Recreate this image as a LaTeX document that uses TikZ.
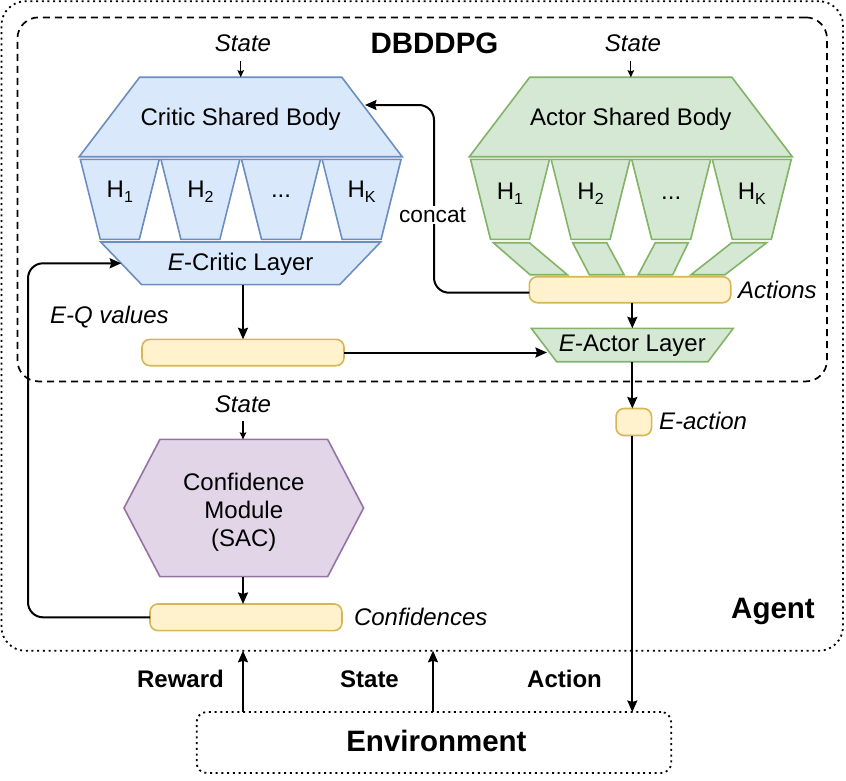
\documentclass[tikz,border=0pt]{standalone}
\usepackage{fontspec}
\setmainfont{Liberation Sans}
\usepackage{tikz}
\usetikzlibrary{arrows.meta,shapes.geometric,shapes.symbols}
\definecolor{bluefill}{HTML}{DAE8FC}
\definecolor{blueline}{HTML}{6C8EBF}
\definecolor{greenfill}{HTML}{D5E8D4}
\definecolor{greenline}{HTML}{82B366}
\definecolor{yellowfill}{HTML}{FFF2CC}
\definecolor{yellowline}{HTML}{D6B656}
\definecolor{purplefill}{HTML}{E1D5E7}
\definecolor{purpleline}{HTML}{9673A6}
\newcommand{\hd}[1]{H\raisebox{-5pt}{\fontsize{16}{16}\selectfont #1}}

\begin{document}
\begin{tikzpicture}[x=1pt,y=-1pt,->,>={Stealth[length=11.5pt,width=10pt,inset=1.5pt]},node distance=80.6pt,
  line width=2pt,font=\fontsize{24}{28}\selectfont,
  every node/.style={inner sep=0pt,outer sep=0pt},
  trap/.style={trapezium,trapezium stretches body,draw,line width=1.6pt,-},
  critic node/.style={trap,draw=blueline,fill=bluefill},
  actor node/.style={trap,draw=greenline,fill=greenfill},
  head/.style={minimum width=79pt,minimum height=80pt,trapezium angle=11.31,shape border rotate=180,text height=0pt,text depth=4pt},
  value box/.style={rectangle,rounded corners=8pt,draw=yellowline,fill=yellowfill,line width=1.6pt,-},
  dot frame/.style={rectangle,draw,line width=1.8pt,dash pattern=on 2pt off 3.7pt,-},
  small label/.style={font=\fontsize{24}{28}\selectfont\itshape},
  bold label/.style={font=\fontsize{24}{28}\selectfont\bfseries},
  big label/.style={font=\fontsize{29.5}{34}\selectfont\bfseries},
  small arrow/.style={line width=1.2pt,>={Stealth[length=7pt,width=6.5pt,inset=1pt]}}]
  \useasboundingbox (0,0) rectangle (846,780);

  % frames
  \node[dot frame,rounded corners=24pt,minimum width=841.5pt,minimum height=649.5pt] (agent) at (422.2,326) {};
  \node[rectangle,rounded corners=21pt,draw,dash pattern=on 7pt off 5pt,line width=1.7pt,minimum width=809.5pt,minimum height=364pt,-] (dbddpg) at (422.2,199.4) {};
  \node[dot frame,rounded corners=10pt,minimum width=474.5pt,minimum height=61pt,big label,text height=18.4pt,text depth=0pt] (env) at (433.9,742.5) {\hspace{5pt}Environment};

  % critic
  \node[critic node,minimum width=323pt,minimum height=79.5pt,trapezium angle=14.84,text height=16pt,text depth=0pt] (cbody) at (240.7,117) {Critic Shared Body};
  \node[critic node,head] (c1) at (119.8,199.3) {\hd{1}};
  \node[critic node,head] (c2) [right of=c1] {\hd{2}};
  \node[critic node,head] (c3) [right of=c2] {...};
  \node[critic node,head] (c4) [right of=c3] {\hd{K}};
  \node[critic node,minimum width=280pt,minimum height=42.7pt,trapezium angle=18.1,shape border rotate=180,text height=13.4pt,text depth=0pt] (clayer) at (240.7,263.3) {\textit{E}-Critic Layer};
  \node[value box,minimum width=202pt,minimum height=26.4pt] (eq) at (243,352.5) {};

  % actor
  \node[actor node,minimum width=323pt,minimum height=79.5pt,trapezium angle=14.84,text height=16pt,text depth=0pt] (abody) at (630.8,117) {Actor Shared Body};
  \node[actor node,head,text height=2pt,text depth=2pt] (a1) at (510,199.3) {\hd{1}};
  \node[actor node,head,text height=2pt,text depth=2pt] (a2) [right of=a1] {\hd{2}};
  \node[actor node,head,text height=2pt,text depth=2pt] (a3) [right of=a2] {...};
  \node[actor node,head,text height=2pt,text depth=2pt] (a4) [right of=a3] {\hd{K}};
  \draw[-,draw=greenline,fill=greenfill,line width=1.6pt] (493.3,242.7) -- (529.3,242.7) -- (567.3,274.7) -- (530,274.7) -- cycle;
  \draw[-,draw=greenline,fill=greenfill,line width=1.6pt] (572.7,242.7) -- (606.7,242.7) -- (624,274.7) -- (589.3,274.7) -- cycle;
  \draw[-,draw=greenline,fill=greenfill,line width=1.6pt] (655.3,242.7) -- (688.3,242.7) -- (672.7,274.7) -- (638.3,274.7) -- cycle;
  \draw[-,draw=greenline,fill=greenfill,line width=1.6pt] (731.7,242.7) -- (766.7,242.7) -- (725,274.7) -- (691,274.7) -- cycle;
  \node[value box,minimum width=201.4pt,minimum height=26pt] (actions) at (630,289.7) {};
  \node[actor node,minimum width=202pt,minimum height=33.4pt,trapezium angle=27.9,shape border rotate=180,text height=13.4pt,text depth=0pt] (alayer) at (632.3,345) {\textit{E}-Actor Layer};
  \node[value box,minimum width=35.5pt,minimum height=27pt] (eaction) at (633.8,422) {};

  % confidence
  \node[signal,signal to=west and east,signal pointer angle=124.7,draw=purpleline,fill=purplefill,line width=1.6pt,minimum width=239.6pt,minimum height=137.3pt,align=center,-] (conf) at (243.8,508) {\rule{0pt}{26pt}Confidence\\Module\\(SAC)};
  \node[value box,minimum width=192pt,minimum height=26.7pt] (confs) at (246,617.3) {};

  % labels
  \node[small label] (s1) at (243,43) {State};
  \node[small label] (s2) at (633,43) {State};
  \node[small label] (s3) at (243,404) {State};
  \node[big label] (title) at (434.5,43) {DBDDPG};
  \node[big label] (agentname) at (773,611.5) {Agent};
  \node[small label,anchor=west] (lactions) at (738,290) {Actions};
  \node[small label,anchor=west] (leq) at (50,317) {E-Q values};
  \node[small label,anchor=west] (leaction) at (659,421) {E-action};
  \node[small label,anchor=west] (lconfs) at (354,617) {Confidences};
  \node[bold label] (lreward) at (180.5,679) {Reward};
  \node[bold label] (lstate) at (369.5,679) {State};
  \node[bold label] (laction) at (564.5,679) {Action};

  % connectors
  \coordinate (concatend) at (365,105);
  \coordinate (concatbend) at (434,200);
  \coordinate (loopbend) at (28,440);
  \coordinate (statex) at (433,0);
  \draw[small arrow] (cbody.north |- 0,61) -- (cbody.north);
  \draw[small arrow] (abody.north |- 0,61) -- (abody.north);
  \draw[small arrow] (s3 |- 0,421) -- (s3 |- conf.north);
  \draw[rounded corners=15pt] ([yshift=-3pt]actions.west) -| (concatbend) |- (concatend);
  \node[fill=white,inner sep=2pt,font=\fontsize{22.7}{26}\selectfont] (lconcat) at (432.5,215) {concat};
  \draw[rounded corners=15pt] (confs.west) -| (loopbend) |- (clayer.west);
  \draw (s3 |- clayer.south) -- (s3 |- eq.north);
  \draw (eq.east) -- ([xshift=3pt]alayer.west |- eq.east);
  \draw (alayer.north |- actions.south) -- (alayer.north);
  \draw (alayer.south) -- (alayer.south |- eaction.north);
  \draw (alayer.south |- eaction.south) -- (alayer.south |- env.north);
  \draw (s3 |- conf.south) -- (s3 |- confs.north);
  \draw (s3 |- env.north) -- (s3 |- agent.south);
  \draw (statex |- env.north) -- (statex |- agent.south);
\end{tikzpicture}
\end{document}
